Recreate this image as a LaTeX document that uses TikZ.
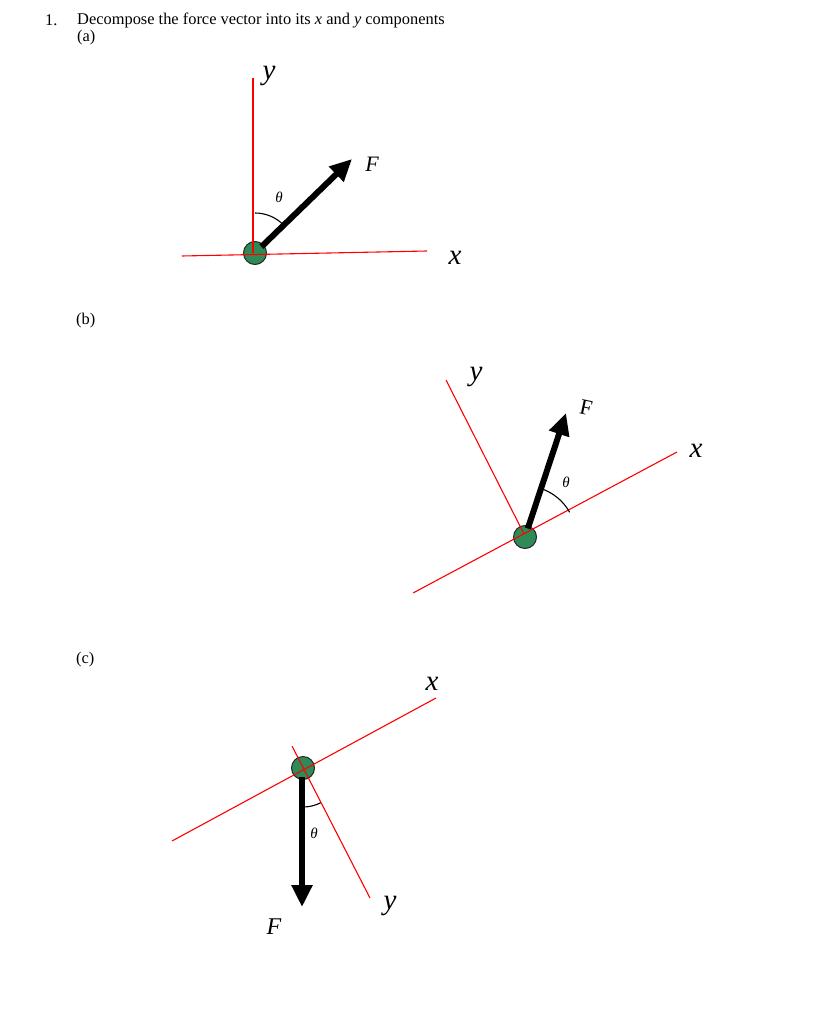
\documentclass[tikz,border=0pt]{standalone}
\usepackage{fontspec}
\setmainfont{Liberation Serif}
\usetikzlibrary{arrows.meta,calc}
\definecolor{ballgreen}{RGB}{46,139,87}
\tikzset{
  axis/.style={red, line width=1.1pt},
  force/.style={line width=6pt, -{Triangle[length=22pt,width=20pt]}, shorten <=-3pt},
  ball/.style={circle, fill=ballgreen, draw=black!85, line width=1pt, minimum size=23pt, inner sep=0pt},
  anglearc/.style={black, line width=1.1pt},
  txt/.style={font=\fontsize{16.4}{19}\selectfont, inner sep=0pt, anchor=west},
  axlab/.style={font=\fontsize{29}{31}\selectfont\itshape, inner sep=0pt},
  flab/.style={font=\fontsize{22}{24}\selectfont, inner sep=0pt},
  thlab/.style={font=\fontsize{15}{17}\selectfont\itshape, inner sep=0pt}
}
\begin{document}
\begin{tikzpicture}[x=1pt,y=1pt]
\useasboundingbox (0,0) rectangle (839,-1024);
% header
\node[txt] (num) at (45,-20) {1.};
\node[txt] (title) at (77,-20) {Decompose the force vector into its \textit{x} and \textit{y} components};
\node[txt] (la) at (77,-38) {(a)};
\node[txt] (lb) at (76,-321) {(b)};
\node[txt] (lc) at (76,-660) {(c)};

% ---------- (a) ----------
\node[ball] (oa) at (255,-253) {};
\coordinate (ax1) at (182,-256);
\coordinate (ax2) at (427,-251);
\coordinate (ay1) at (253,-78);
\coordinate (ay2) at (253,-253);
\coordinate (atip) at (352,-159);
\draw[force] (oa) -- (atip);
\draw[axis] (ax1) -- (ax2);
\draw[axis] (ay1) -- (ay2);
\draw[anglearc] ($(oa.center)+(90:40)$) arc[start angle=90, end angle=44, radius=40];
\node[axlab] (yla) at (269,-76) {y};
\node[axlab] (xla) at (455,-258) {x};
\node[flab, font=\fontsize{22}{24}\selectfont\itshape] (Fa) at (372,-164) {F};
\node[thlab] (tha) at (279,-197) {θ};

% ---------- (b) ----------
\node[ball] (ob) at (525,-537) {};
\coordinate (bx1) at (413,-593);
\coordinate (bx2) at (677,-452);
\coordinate (by1) at (446,-380);
\coordinate (by2) at (524,-534);
\coordinate (btip) at (566,-413);
\draw[force] (ob) -- (btip);
\draw[axis] (bx1) -- (bx2);
\draw[axis] (by1) -- (by2);
\draw[anglearc] ($(ob.center)+(71.5:51)$) arc[start angle=71.5, end angle=29, radius=51];
\node[axlab] (ylb) at (476,-377) {y};
\node[axlab] (xlb) at (696,-451) {x};
\node[flab, rotate=-12] (Fb) at (586,-408) {F};
\node[thlab] (thb) at (566,-482) {θ};

% ---------- (c) ----------
\node[ball] (oc) at (303,-768) {};
\coordinate (cx1) at (172,-841);
\coordinate (cx2) at (436,-698);
\coordinate (cy1) at (292,-746);
\coordinate (cy2) at (370,-898);
\coordinate (ctip) at (302,-907);
\draw[force] (oc.south -| ctip) -- (ctip);
\draw[axis] (cx1) -- (cx2);
\draw[axis] (cy1) -- (cy2);
\draw[anglearc] ($(oc.center)+(-90:39)$) arc[start angle=-90, end angle=-63, radius=39];
\node[axlab] (xlc) at (432,-684) {x};
\node[axlab] (ylc) at (390,-906) {y};
\node[flab, font=\fontsize{24}{26}\selectfont\itshape] (Fc) at (274,-927) {F};
\node[thlab] (thc) at (314,-833) {θ};
\end{tikzpicture}
\end{document}
